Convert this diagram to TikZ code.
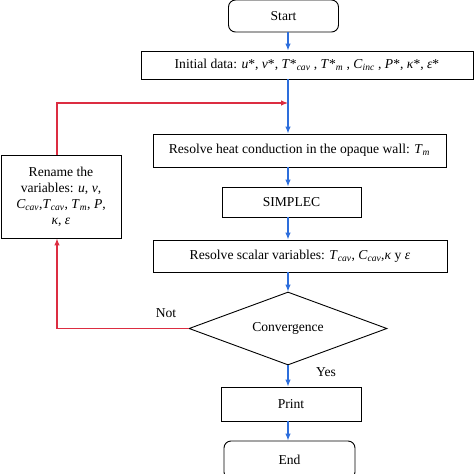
\documentclass[tikz,border=0pt]{standalone}
\usepackage{fontspec}
\setmainfont{Liberation Serif}
\usetikzlibrary{shapes.geometric, arrows.meta}

\definecolor{flowblue}{RGB}{45,110,220}
\definecolor{flowred}{RGB}{220,45,65}
\newcommand{\vr}[1]{\textit{#1}}
\newcommand{\vs}[2]{\textit{#1}\textsubscript{\textit{#2}}}

\begin{document}
\begin{tikzpicture}[
      x=1pt, y=-1pt,
      font=\fontsize{13.6}{16}\selectfont,
      block/.style={rectangle, draw, align=center, inner sep=0pt,
      line width=0.9pt},
      term/.style={block, rounded corners=7pt},
      decision/.style={diamond, draw, aspect=2.7, inner sep=0pt,
      line width=0.9pt},
      line/.style={draw, -{Latex[length=7pt,width=5.5pt]}, line width=1.1pt,
      flowblue},
      back/.style={draw, -{Latex[length=7pt,width=5.5pt]}, line width=1.1pt,
      flowred}
    ]
    \useasboundingbox (0,0) rectangle (474,474);

    % Nodes
    \node [term, minimum width=110pt, minimum height=32pt] (start)
    at (283.5,16) {Start};
    \node [block, minimum width=332pt, minimum height=28pt] (init)
    at (307,65) {Initial data: \vr{u}*, \vr{v}*, \vr{T}*\textsubscript{\textit{cav}} ,
      \vr{T}*\textsubscript{\textit{m}} , \vs{C}{inc} , \vr{P}*, \vr{κ}*, \vr{ε}*};
    \node [block, minimum width=293pt, minimum height=33pt] (heat)
    at (299.5,150.5) {Resolve heat conduction in the opaque wall: \vs{T}{m}};
    \node [block, minimum width=139pt, minimum height=30pt] (simplec)
    at (291.5,202) {SIMPLEC};
    \node [block, minimum width=294pt, minimum height=32pt] (scalar)
    at (300,256) {Resolve scalar variables: \vs{T}{cav}, \vs{C}{cav},\vr{κ}\ y \vr{ε}};
    \node [decision, minimum width=198pt, minimum height=73pt] (conv)
    at (288,328.5) {Convergence};
    \node [block, minimum width=140pt, minimum height=34pt] (print)
    at (291,404) {Print};
    \node [term, minimum width=131pt, minimum height=38pt] (end)
    at (289.5,460) {End};
    \node [block, minimum width=120pt, minimum height=83pt] (rename)
    at (61,196.5) {Rename the\\variables: \vr{u}, \vr{v},\\
      \vs{C}{cav},\vs{T}{cav}, \vs{T}{m}, \vr{P},\\\vr{κ}, \vr{ε}};
    \node (notlbl) at (166,313) {Not};
    \node (yeslbl) at (326,372) {Yes};

    \coordinate (axis) at (288,0);
    \coordinate (merge) at (288,103);

    % Paths
    \path [line] (start.south -| axis) -- (init.north -| axis);
    \path [line] (init.south -| axis) -- (heat.north -| axis);
    \path [line] (heat.south -| axis) -- (simplec.north -| axis);
    \path [line] (simplec.south -| axis) -- (scalar.north -| axis);
    \path [line] (scalar.south -| axis) -- (conv.north);
    \path [line] (conv.south) -- (print.north -| conv.south);
    \path [line] (print.south -| conv.south) -- (end.north -| conv.south);
    \path [back] (conv.west) -| ([xshift=-4pt]rename.south);
    \path [back] ([xshift=-4pt]rename.north) |- (merge);
  \end{tikzpicture}
\end{document}
